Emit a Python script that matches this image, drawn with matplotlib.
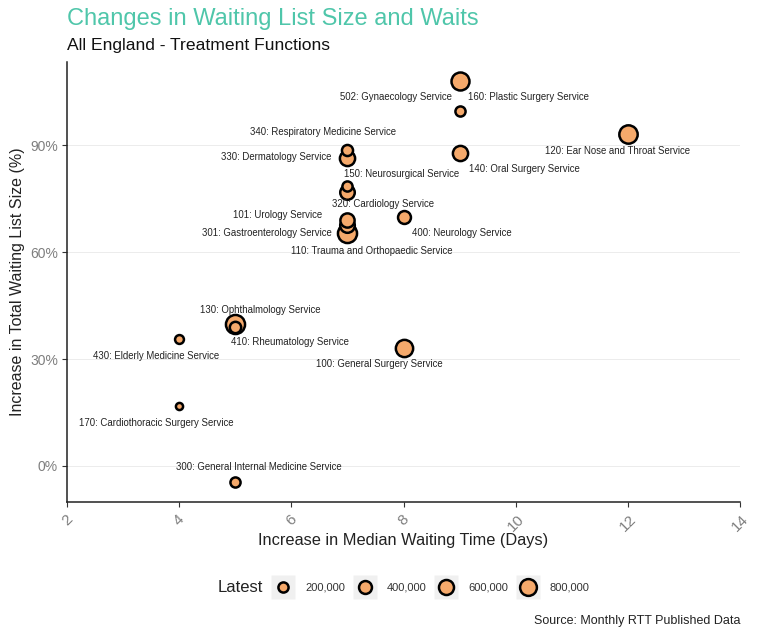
import matplotlib
matplotlib.use("Agg")
import matplotlib.pyplot as plt
import numpy as np
from matplotlib.lines import Line2D
from matplotlib.legend_handler import HandlerTuple
from matplotlib.ticker import PercentFormatter

plt.rcParams['font.family'] = ['Liberation Sans', 'DejaVu Sans']

# ---------------- data ----------------
services = [
    "100: General Surgery Service",
    "101: Urology Service",
    "110: Trauma and Orthopaedic Service",
    "120: Ear Nose and Throat Service",
    "130: Ophthalmology Service",
    "140: Oral Surgery Service",
    "150: Neurosurgical Service",
    "160: Plastic Surgery Service",
    "170: Cardiothoracic Surgery Service",
    "300: General Internal Medicine Service",
    "301: Gastroenterology Service",
    "320: Cardiology Service",
    "330: Dermatology Service",
    "340: Respiratory Medicine Service",
    "400: Neurology Service",
    "410: Rheumatology Service",
    "430: Elderly Medicine Service",
    "502: Gynaecology Service",
]
median_wait_increase = [8, 7, 7, 12, 5, 9, 7, 9, 4, 5, 7, 7, 7, 7, 8, 5, 4, 9]
list_size_increase = [0.331, 0.690, 0.653, 0.931, 0.398, 0.877, 0.785, 1.079, 0.168,
                      -0.045, 0.676, 0.768, 0.863, 0.886, 0.698, 0.390, 0.356, 0.995]
latest = [860000, 520000, 1100000, 1000000, 1100000, 620000, 200000, 950000, 60000,
          200000, 560000, 550000, 620000, 260000, 400000, 280000, 130000, 200000]
legend_breaks = [200000, 400000, 600000, 800000]
x_ticks = [2, 4, 6, 8, 10, 12, 14]
y_ticks = [0.0, 0.3, 0.6, 0.9]

# label offsets (pixels, right / down) -- layout, not data
label_dx = [-24, -70, 24, -10, 25, 65, 54, 69, -23, 24, -81, 36, -71, -24, 58, 55, -23, -64]
label_dy = [16, -5, 18, 17, -14, 16, -12, 16, 17, -15, 8, 12, -1, -18, 16, 15, 17, -14]

FILL = "#F5A96B"
EDGE_LW = 1.8  # points

def diam_px(v):
    return 6.0 + 0.47 * np.sqrt(np.asarray(v) / 1000.0)

def marker_pt(v):
    return (diam_px(v) - EDGE_LW / 0.72) * 0.72

fig = plt.figure(figsize=(7.68, 6.41), dpi=100)
ax = fig.add_axes([67/768, 1-502/641, (740-67)/768, (502-62)/641])

order = np.argsort(latest)[::-1]
for i in order:
    ax.plot(median_wait_increase[i], list_size_increase[i], 'o',
            markersize=marker_pt(latest[i]), mfc=FILL, mec='black', mew=EDGE_LW, zorder=3)

for i, name in enumerate(services):
    ax.annotate(name, (median_wait_increase[i], list_size_increase[i]),
                xytext=(label_dx[i], -label_dy[i]), textcoords='offset pixels',
                ha='center', va='center', fontsize=6.9, color='#222222', zorder=4)

ax.set_xlim(2, 14)
ax.set_ylim(-0.101, 1.133)
ax.set_xticks(x_ticks)
ax.set_yticks(y_ticks)
ax.yaxis.set_major_formatter(PercentFormatter(1.0, decimals=0))
ax.tick_params(axis='both', colors='#333333', labelcolor='#7f7f7f', length=3.5, width=0.8)
ax.tick_params(axis='y', labelsize=10, pad=3)
ax.tick_params(axis='x', labelsize=11, pad=4)
for lab in ax.get_xticklabels():
    lab.set_rotation(45)
    lab.set_ha('center')
    lab.set_va('top')

for s in ['top', 'right']:
    ax.spines[s].set_visible(False)
for s in ['left', 'bottom']:
    ax.spines[s].set_color('#222222')
    ax.spines[s].set_linewidth(1.1)
ax.grid(axis='y', color='#ececec', linewidth=0.7)
ax.set_axisbelow(True)

ax.set_xlabel("Increase in Median Waiting Time (Days)", fontsize=11.8, color='#222222')
ax.set_ylabel("Increase in Total Waiting List Size (%)", fontsize=11.5, color='#222222')
ax.xaxis.set_label_coords(0.5, -(541-502)/440)
ax.xaxis.label.set_va('center')
ax.yaxis.set_label_coords(-(67-18)/673, 0.5)
ax.yaxis.label.set_va('center')

fig.text(67/768, 1-25/641, "Changes in Waiting List Size and Waits",
         fontsize=17, color='#4FC6AA', ha='left', va='baseline')
fig.text(67/768, 1-50/641, "All England - Treatment Functions",
         fontsize=12.6, color='#111111', ha='left', va='baseline')
fig.text(740/768, 1-621/641, "Source: Monthly RTT Published Data",
         fontsize=9, color='#222222', ha='right', va='center')

fig.text(218/768, 1-588/641, "Latest", fontsize=12, color='#222222', ha='left', va='center')
handles = []
for b in legend_breaks:
    bg = Line2D([], [], marker='s', markersize=17.5, mfc='#f0f0f0', mec='none', ls='none')
    fg = Line2D([], [], marker='o', markersize=marker_pt(b), mfc=FILL, mec='black', mew=EDGE_LW, ls='none')
    handles.append((bg, fg))
labels = [f"{b:,}" for b in legend_breaks]
fig.legend(handles, labels, handler_map={tuple: HandlerTuple(ndivide=1, pad=0)},
           loc='center left', bbox_to_anchor=(271/768, 1-588/641), ncol=4, frameon=False,
           fontsize=8, handlelength=2.2, handletextpad=0.9, columnspacing=0.65,
           borderaxespad=0, borderpad=0, labelcolor='#333333')

fig.savefig("out.png", dpi=100)
